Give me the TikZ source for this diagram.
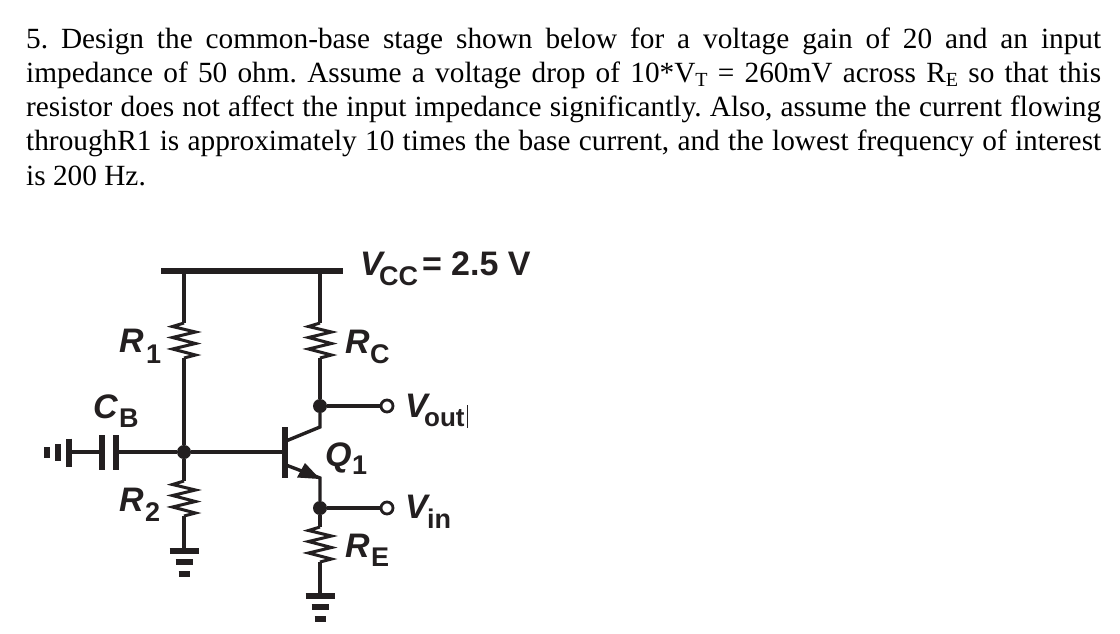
\documentclass[tikz,border=0pt]{standalone}
\usepackage{fontspec}
\setmainfont{Liberation Serif}
\newfontfamily\schem{Liberation Sans}
\definecolor{ink}{HTML}{231F20}
\frenchspacing
\newcommand{\bodyline}[3]{\node[textline] (#1) at (26,#2) {\makebox[1075pt][s]{#3}};}
\newcommand{\smallsub}[1]{\raisebox{-4.5pt}{\fontsize{20}{20}\selectfont #1}}
\newcommand{\lab}[1]{{\fontsize{34}{34}\selectfont\schem\bfseries\itshape #1}}
\newcommand{\subl}[1]{{\fontsize{27}{27}\selectfont\schem\bfseries #1}}
\tikzset{
  wire/.style={draw=ink,line width=3.4pt,line join=miter},
  zig/.style={draw=ink,line width=3pt,line join=miter,miter limit=10},
  thickbar/.style={draw=ink,line width=6pt},
  dotnode/.style={circle,fill=ink,draw=none,minimum size=14pt,inner sep=0pt},
  termnode/.style={circle,draw=ink,fill=white,line width=2.8pt,minimum size=12pt,inner sep=0pt},
  textline/.style={anchor=base west,inner sep=0pt,font=\fontsize{29.3}{34}\selectfont},
  labelnode/.style={anchor=base west,inner sep=0pt,text=ink},
  resistorv/.pic={\draw[zig] (0,0)--(-11.5,3.5)--(11.5,9)--(-11.5,14.5)--(11.5,20.5)--(-11.5,26)--(11.5,32)--(0,35);}
}
\newcommand{\gndh}[2]{% ground pointing down, at (x,y) of the first bar
  \draw[thickbar] (#1-14.5,#2)--(#1+14.5,#2);
  \draw[thickbar] (#1-8.5,#2+11)--(#1+8.5,#2+11);
  \draw[thickbar] (#1-5.5,#2+22.5)--(#1+5.5,#2+22.5);}
\begin{document}
\begin{tikzpicture}[x=1pt,y=-1pt]
\useasboundingbox (0,0) rectangle (1120,633);
\fill[white] (0,0) rectangle (1120,633);
% text
\bodyline{l1}{48}{5. Design the common-base stage shown below for a voltage gain of 20 and an input}
\bodyline{l2}{82}{impedance of 50 ohm. Assume a voltage drop of 10*V\smallsub{T} = 260mV across R\smallsub{E} so that this}
\bodyline{l3}{116}{resistor does not affect the input impedance significantly. Also, assume the current flowing}
\bodyline{l4}{150}{throughR1 is approximately 10 times the base current, and the lowest frequency of interest}
\node[textline] (l5) at (26,185) {is 200 Hz.};
% coordinates
\coordinate (barL) at (161,271);
\coordinate (barR) at (343,271);
\coordinate (barA) at (184,271);
\coordinate (barB) at (320,271);
\coordinate (r1t) at (184,323); \coordinate (r1b) at (184,358);
\coordinate (rct) at (320,323); \coordinate (rcb) at (320,358);
\coordinate (r2t) at (184,481); \coordinate (r2b) at (184,516);
\coordinate (ret) at (320,527); \coordinate (reb) at (320,562);
\coordinate (g2) at (184,551);
\coordinate (ge) at (320,596);
\coordinate (baseT) at (285,427);
\coordinate (baseB) at (285,478);
\coordinate (baseM) at (285,452);
\coordinate (colI) at (286,441);
\coordinate (colK) at (320,427);
\coordinate (emI) at (286,465);
\coordinate (emK) at (320,478);
\coordinate (capA) at (102,452);
\coordinate (capB) at (116,452);
\coordinate (gc) at (69,452);
% junctions and terminals
\node[dotnode] (jb) at (184,452) {};
\node[dotnode] (jc) at (320,406) {};
\node[dotnode] (je) at (320,508) {};
\node[termnode] (vo) at (387,406) {};
\node[termnode] (vi) at (387,508) {};
% supply
\draw[thickbar] (barL)--(barR);
% wires
\draw[wire] (barA)--(r1t);
\draw[wire] (r1b)--(jb);
\draw[wire] (jb)--(r2t);
\draw[wire] (r2b)--(g2);
\draw[wire] (barB)--(rct);
\draw[wire] (rcb)--(jc);
\draw[wire] (jc)--(vo);
\draw[wire] (jc)--(colK)--(colI);
\draw[wire] (emI)--(emK)--(je);
\draw[wire] (je)--(vi);
\draw[wire] (je)--(ret);
\draw[wire] (reb)--(ge);
\draw[wire] (jb)--(baseM);
\draw[wire] (jb)--(capB);
\draw[wire] (capA)--(gc);
% resistors
\pic at (r1t) {resistorv};
\pic at (rct) {resistorv};
\pic at (r2t) {resistorv};
\pic at (ret) {resistorv};
% transistor
\draw[thickbar] (baseT)--(baseB);
\fill[ink] (297,477.5)--(305,463)--(320,479)--cycle;
% capacitor
\draw[thickbar] (102,435)--(102,470);
\draw[thickbar] (116,435)--(116,470);
% grounds
\gndh{184}{551}
\gndh{320}{596}
\draw[thickbar] (69,438.5)--(69,467);
\draw[thickbar] (58,444)--(58,461);
\draw[thickbar] (46.5,447)--(46.5,458);
% labels
\node[labelnode] (lr1) at (119,352) {\lab{R}};
\node[labelnode] (lr1s) at (146,363) {\subl{1}};
\node[labelnode] (lcb) at (93,418) {\lab{C}};
\node[labelnode] (lcbs) at (119,427) {\subl{B}};
\node[labelnode] (lr2) at (119,511) {\lab{R}};
\node[labelnode] (lr2s) at (145,521) {\subl{2}};
\node[labelnode] (lrc) at (345,353) {\lab{R}};
\node[labelnode] (lrcs) at (370,363) {\subl{C}};
\node[labelnode] (lre) at (345,557) {\lab{R}};
\node[labelnode] (lres) at (371,566) {\subl{E}};
\node[labelnode] (lq) at (325,466) {\lab{Q}};
\node[labelnode] (lqs) at (352,474) {\subl{1}};
\node[labelnode] (lvcc) at (360,275) {\lab{V}};
\node[labelnode] (lvccs) at (379,285) {\subl{CC}};
\node[labelnode] (leq) at (422,275) {{\fontsize{34}{34}\selectfont\schem\bfseries =}};
\node[labelnode] (lval) at (451,275) {{\fontsize{34}{34}\selectfont\schem\bfseries 2.5 V}};
\node[labelnode] (lvo) at (405,417) {\lab{V}};
\node[labelnode] (lvos) at (424,426) {{\fontsize{26}{26}\selectfont\schem\bfseries out}};
\node[labelnode] (lvi) at (405,518) {\lab{V}};
\node[labelnode] (lvis) at (427,528) {{\fontsize{27}{27}\selectfont\schem\bfseries in}};
\draw[ink,line width=1pt] (467,405)--(467,428);
\end{tikzpicture}
\end{document}
